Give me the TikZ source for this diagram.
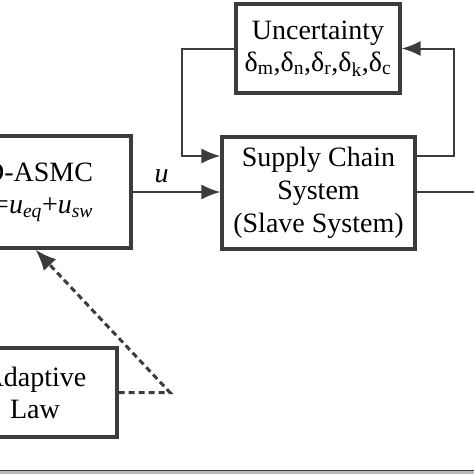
\documentclass[tikz,border=0pt]{standalone}
\usepackage{fontspec}
\setmainfont{Liberation Serif}
\usetikzlibrary{arrows.meta}
\definecolor{linegray}{HTML}{3c3c3c}

\begin{document}
\begin{tikzpicture}[x=1pt, y=-1pt,
  font=\fontsize{28}{32}\selectfont,
  block/.style = {shape=rectangle, draw=linegray, line width=3.2pt,
    align=center, inner sep=0pt},
  link/.style = {draw=linegray, line width=2pt,
    -{Latex[length=19pt, width=15pt]}},
  plain/.style = {draw=linegray, line width=2pt},
  dashlink/.style = {draw=linegray, line width=3pt,
    dash pattern=on 6pt off 4pt, -{Latex[length=21pt, width=17pt]}}]
  \useasboundingbox (0,0) rectangle (474,474);
  % blocks
  \node[block, minimum width=164pt, minimum height=89pt] (unc) at (318,48.5)
    {Uncertainty\\δ\textsubscript{m},δ\textsubscript{n},δ\textsubscript{r},δ\textsubscript{k},δ\textsubscript{c}};
  \node[block, minimum width=193pt, minimum height=112pt,
    font=\fontsize{28}{33}\selectfont] (scs) at (318.5,193)
    {Supply Chain\\System\\(Slave System)};
  \node[block, minimum width=191pt, minimum height=112pt,
    text width=115pt, align=right] (asmc) at (35.5,192)
    {D-ASMC\\=\textit{u}\textsubscript{\textit{eq}}+\textit{u}\textsubscript{\textit{sw}}};
  \node[block, minimum width=164pt, minimum height=89pt] (adapt) at (35,392.5)
    {Adaptive\\Law};
  % corners
  \coordinate (fbl) at (182,156);
  \coordinate (fbr) at (454,156);
  \coordinate (knee) at (170,392.5);
  \coordinate (out) at (480,192);
  % connectors
  \draw[link] (asmc.east) -- node[pos=0.33, above=5pt] (ulabel) {\textit{u}} (scs.west |- asmc.east);
  \draw[plain] (scs.east |- out) -- (out);
  \draw[link] (unc.west) -| (fbl) -- (fbl -| scs.west);
  \draw[link] (fbr -| scs.east) -- (fbr) |- (unc.east);
  \draw[dashlink] (adapt.east) -- (knee) -- (asmc.south);
  % frame edge at the bottom
  \fill[gray!55] (0,471) rectangle (474,474);
  \draw[linegray, line width=1pt] (0,470.5) -- (474,470.5);
\end{tikzpicture}
\end{document}
